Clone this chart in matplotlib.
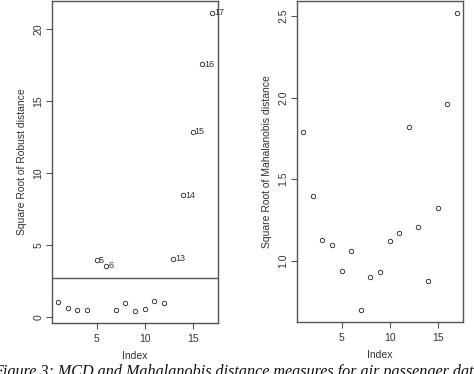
import numpy as np
import matplotlib.pyplot as plt

# sqrt of robust (MCD) distances, index 1..17
index = np.arange(1, 18)
robust_dist = [1.07, 0.65, 0.49, 0.49, 3.97, 3.58, 0.49, 1.02, 0.44,
               0.58, 1.14, 1.02, 4.07, 8.48, 12.9, 17.55, 21.13]
mahal_dist = [1.79, 1.40, 1.13, 1.10, 0.94, 1.06, 0.70, 0.90, 0.93,
              1.12, 1.17, 1.82, 1.21, 0.875, 1.325, 1.96, 2.52]
cutoff = 2.7
flagged = [5, 6, 13, 14, 15, 16, 17]

TXT = '#333333'
plt.rcParams['font.family'] = ['Liberation Sans', 'DejaVu Sans']


def r_lim(v):
    lo, hi = min(v), max(v)
    pad = 0.04 * (hi - lo)
    return lo - pad, hi + pad


def style_axes(ax, ylabel, yticks):
    for s in ax.spines.values():
        s.set_color('#555555')
        s.set_linewidth(1.0)
    ax.set_xlim(r_lim(index))
    ax.set_xticks([5, 10, 15])
    ax.set_yticks(yticks)
    ax.tick_params(direction='out', length=4, width=0.8, colors='#555555',
                   labelcolor=TXT, labelsize=7.5, pad=2)
    ax.tick_params(axis='x', pad=4)
    for lab in ax.get_yticklabels():
        lab.set_rotation(90)
        lab.set_va('center')
    ax.set_xlabel('Index', fontsize=7.5, color=TXT, labelpad=5)
    ax.set_ylabel(ylabel, fontsize=7.5, color=TXT, labelpad=5)


fig = plt.figure(figsize=(4.74, 3.74), dpi=100)

ax1 = fig.add_axes([0.1097, 0.1364, 0.3502, 0.861])
ax1.plot(index, robust_dist, 'o', mfc='none', mec='#222222', ms=3.2, mew=0.6)
ax1.axhline(cutoff, color='#555555', lw=1.0)
for i in flagged:
    ax1.annotate(str(i), (i, robust_dist[i - 1]), xytext=(1.5, 0),
                 textcoords='offset points', fontsize=6.5, color=TXT, va='center')
ax1.set_ylim(r_lim(robust_dist))
style_axes(ax1, 'Square Root of Robust distance', [0, 5, 10, 15, 20])

ax2 = fig.add_axes([0.6266, 0.1398, 0.3502, 0.858])
ax2.plot(index, mahal_dist, 'o', mfc='none', mec='#222222', ms=3.2, mew=0.6)
ax2.set_ylim(r_lim(mahal_dist))
style_axes(ax2, 'Square Root of Mahalanobis distance', [1.0, 1.5, 2.0, 2.5])
ax2.set_yticklabels(['1.0', '1.5', '2.0', '2.5'])

fig.text(0.5, -0.006, 'Figure 3: MCD and Mahalanobis distance measures for air passenger data',
         ha='center', va='baseline', fontsize=11.6, style='italic',
         family=['Liberation Serif', 'DejaVu Serif'], color='#111111')

fig.savefig('out.png', dpi=100)
